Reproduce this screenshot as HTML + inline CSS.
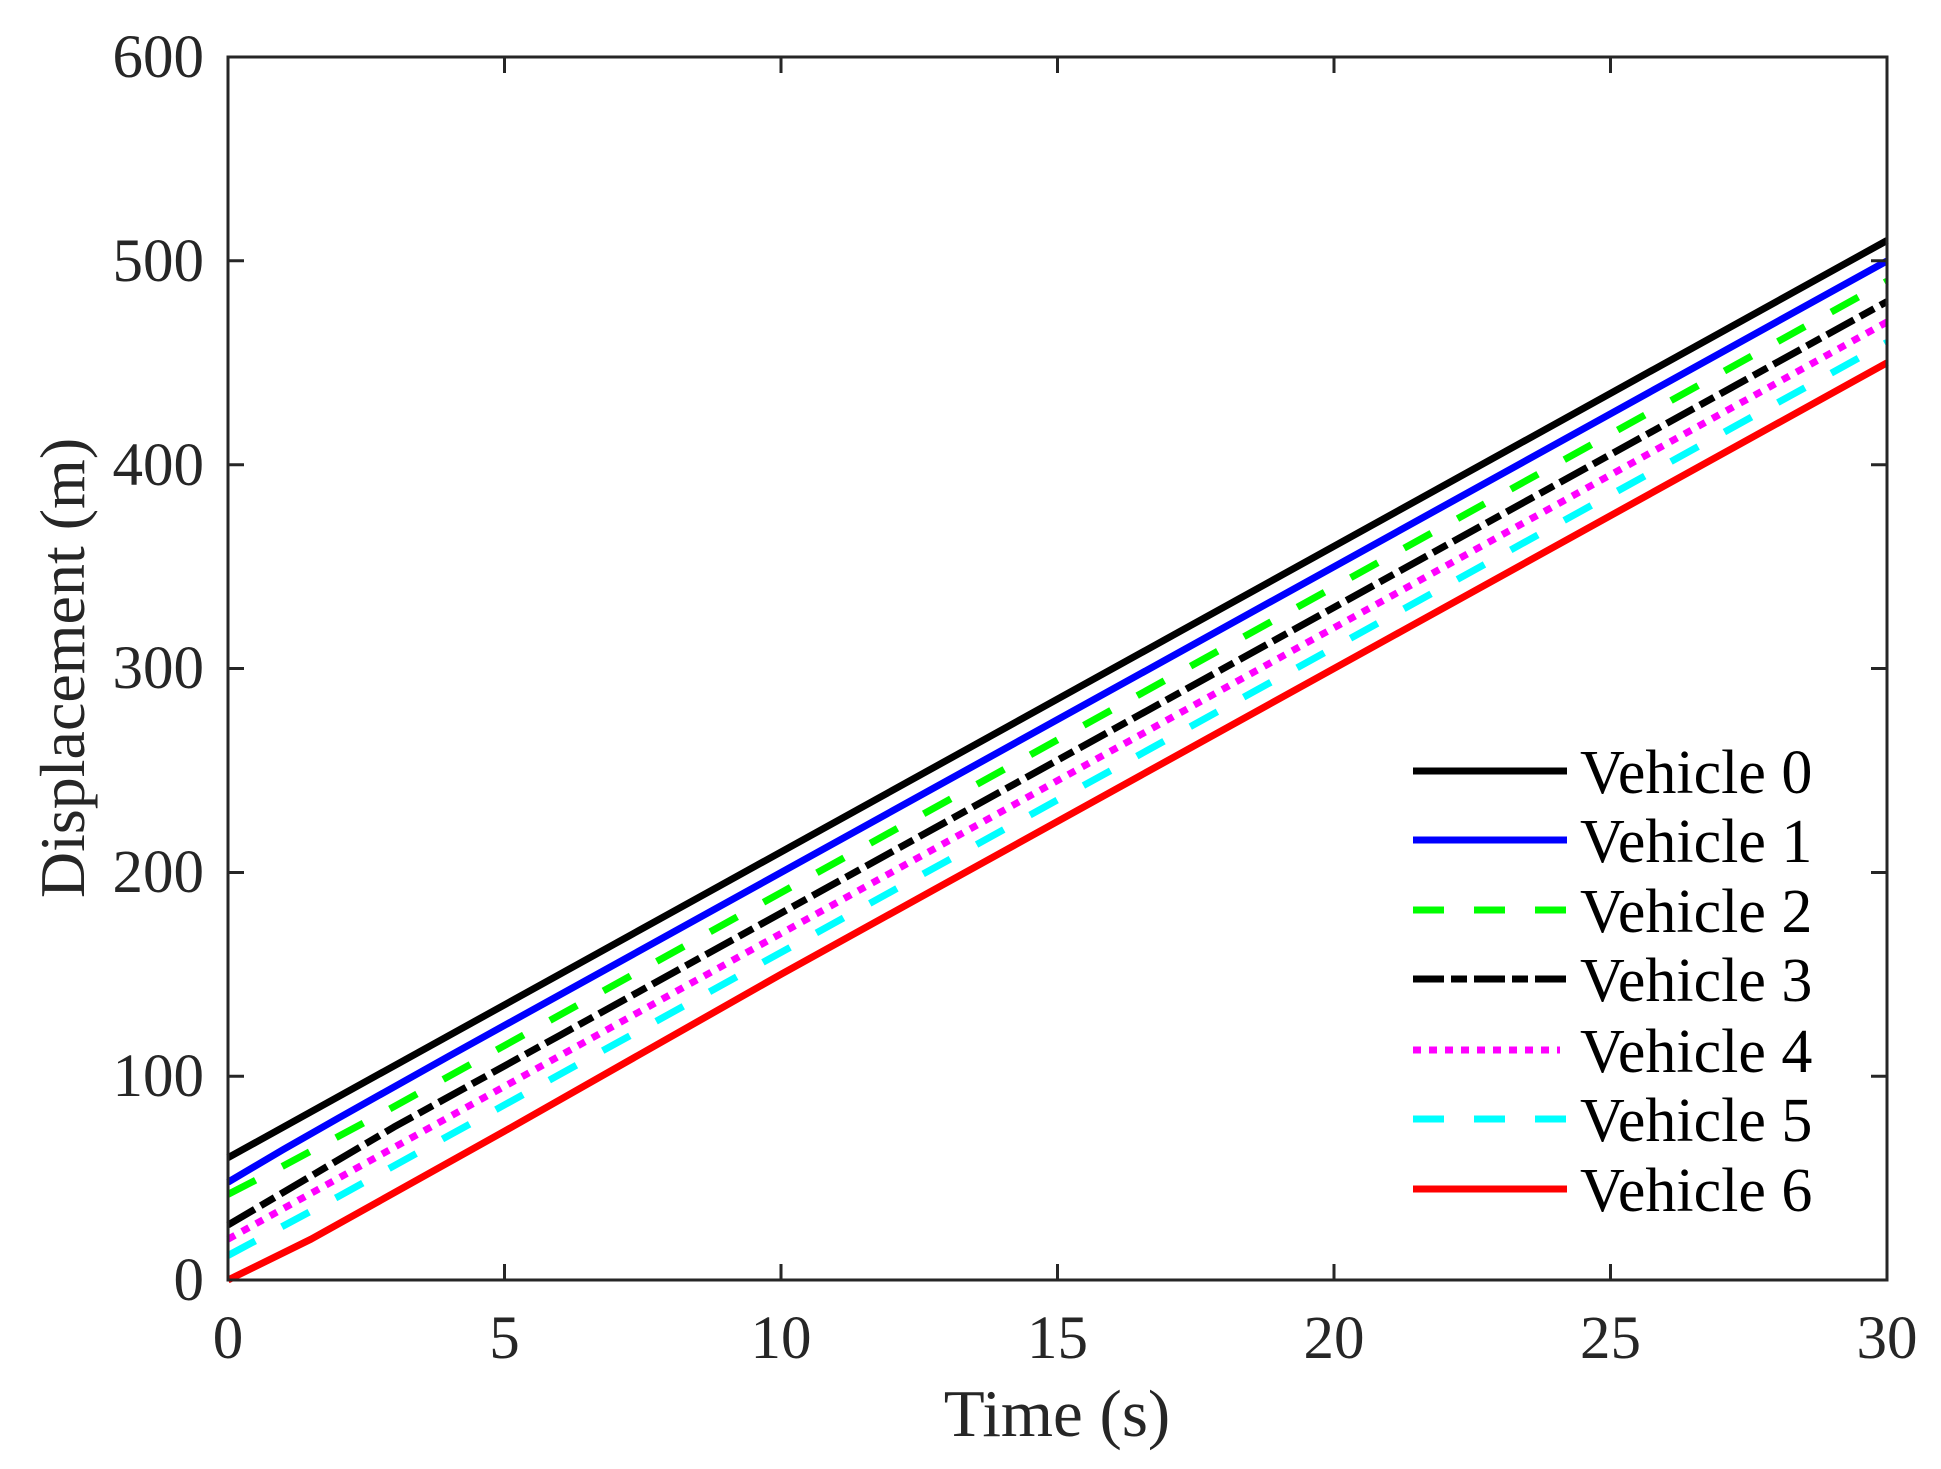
<!DOCTYPE html>
<html><head><style>
body{margin:0;background:#fff}
svg text{font-family:"Liberation Serif",serif;fill:#262626}
</style></head><body>
<svg width="1941" height="1464" xmlns="http://www.w3.org/2000/svg">
<rect width="1941" height="1464" fill="#fff"/>
<g fill="none" stroke-width="7" stroke-linejoin="round">
<polyline stroke="#000" points="228,1157.7 1887,240.5"/>
<polyline stroke="#0000ff" points="228,1182.2 283.3,1149.5 338.6,1118 449.2,1056 1887,260.9"/>
<polyline stroke="#00ff00" stroke-dasharray="31,30" points="228,1194.4 283.3,1165.9 393.9,1106.7 1887,281.2"/>
<polyline stroke="#000" stroke-dasharray="31,7,16,7" points="228,1225 283.3,1192.4 393.9,1127.1 559.8,1035.4 1887,301.6"/>
<polyline stroke="#ff00ff" stroke-dasharray="8,8" points="228,1239.2 393.9,1147.5 1887,322"/>
<polyline stroke="#00ffff" stroke-dasharray="31,30" points="228,1255.5 338.6,1196.4 1887,342.4"/>
<polyline stroke="#ff0000" points="228,1280 311,1239.2 504.5,1131.2 781,974.3 1887,362.8"/>
</g>
<g stroke="#262626" stroke-width="3" fill="none">
<rect x="228" y="57" width="1659" height="1223"/>
<path d="M228,1076.2h16M228,872.5h16M228,668.5h16M228,464.7h16M228,260.8h16M1887,1076.2h-16M1887,872.5h-16M1887,668.5h-16M1887,464.7h-16M1887,260.8h-16M504.5,1280v-16M781,1280v-16M1057.5,1280v-16M1334,1280v-16M1610.5,1280v-16M504.5,57v16M781,57v16M1057.5,57v16M1334,57v16M1610.5,57v16"/>
</g>
<g font-size="61" text-anchor="end">
<text x="204" y="1300">0</text>
<text x="204" y="1096">100</text>
<text x="204" y="892">200</text>
<text x="204" y="688">300</text>
<text x="204" y="485">400</text>
<text x="204" y="281">500</text>
<text x="204" y="77">600</text>
</g>
<g font-size="61" text-anchor="middle">
<text x="228" y="1358">0</text>
<text x="504.5" y="1358">5</text>
<text x="781" y="1358">10</text>
<text x="1057.5" y="1358">15</text>
<text x="1334" y="1358">20</text>
<text x="1610.5" y="1358">25</text>
<text x="1887" y="1358">30</text>
<text x="1057" y="1436" font-size="67">Time (s)</text>
<text transform="translate(84,668) rotate(-90)" font-size="64">Displacement (m)</text>
</g>
<g stroke-width="7" fill="none">
<line x1="1413" y1="771" x2="1567" y2="771" stroke="#000"/>
<line x1="1413" y1="840" x2="1567" y2="840" stroke="#0000ff"/>
<line x1="1413" y1="910" x2="1567" y2="910" stroke="#00ff00" stroke-dasharray="31,30"/>
<line x1="1413" y1="979" x2="1567" y2="979" stroke="#000" stroke-dasharray="31,7,16,7"/>
<line x1="1413" y1="1050" x2="1560" y2="1050" stroke="#ff00ff" stroke-dasharray="8,8"/>
<line x1="1413" y1="1119" x2="1567" y2="1119" stroke="#00ffff" stroke-dasharray="31,30"/>
<line x1="1413" y1="1189" x2="1567" y2="1189" stroke="#ff0000"/>
</g>
<g font-size="62">
<text x="1580" y="793" style="fill:#000">Vehicle 0</text>
<text x="1580" y="862" style="fill:#000">Vehicle 1</text>
<text x="1580" y="932" style="fill:#000">Vehicle 2</text>
<text x="1580" y="1001" style="fill:#000">Vehicle 3</text>
<text x="1580" y="1072" style="fill:#000">Vehicle 4</text>
<text x="1580" y="1141" style="fill:#000">Vehicle 5</text>
<text x="1580" y="1211" style="fill:#000">Vehicle 6</text>
</g>
</svg>
</body></html>
